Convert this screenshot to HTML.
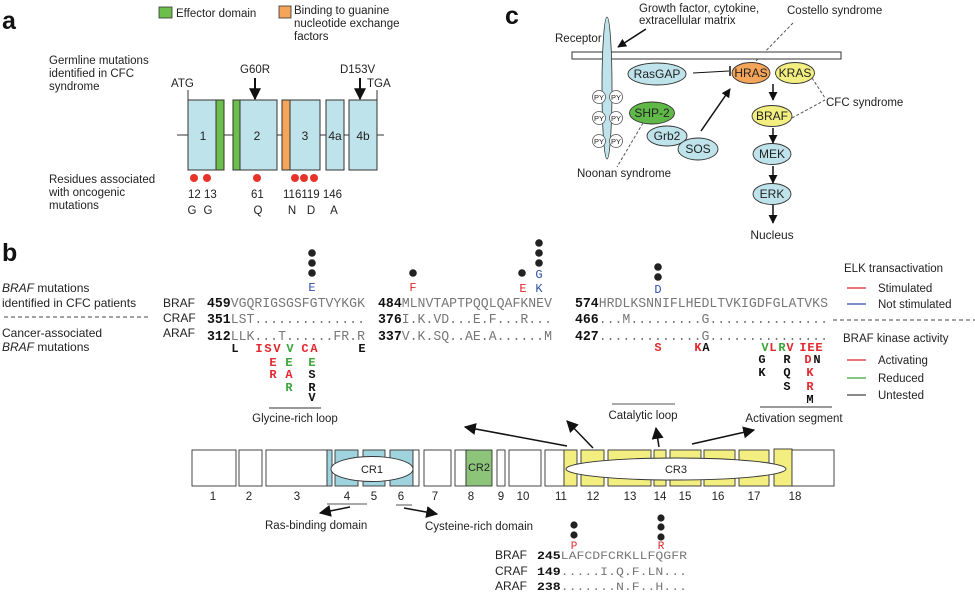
<!DOCTYPE html>
<html><head><meta charset="utf-8"><style>
html,body{margin:0;padding:0;background:#fff;}
svg{display:block;}
text{font-family:"Liberation Sans",sans-serif;fill:#222;}
.m, .m text, .m tspan, text.m{font-family:"Liberation Mono",monospace;}
.g{fill:#777;}
.r{fill:#e0282e;}
.gr{fill:#3aa53a;}
.bl{fill:#2c4fa8;}
.k{fill:#111;}
</style></head><body>
<svg width="975" height="594" viewBox="0 0 975 594" xmlns="http://www.w3.org/2000/svg">
<defs>
<marker id="ah" viewBox="0 0 10 10" refX="9" refY="5" markerWidth="9" markerHeight="9" markerUnits="userSpaceOnUse" orient="auto"><path d="M0,0 L10,5 L0,10 z" fill="#111"/></marker>
<marker id="ah2" viewBox="0 0 10 10" refX="9" refY="5" markerWidth="12" markerHeight="12" markerUnits="userSpaceOnUse" orient="auto"><path d="M0,0 L10,5 L0,10 z" fill="#111"/></marker>
</defs>

<!-- ===== Panel a ===== -->
<text x="2" y="29" font-size="25" font-weight="bold" style="fill:#111">a</text>
<rect x="159" y="7" width="13" height="11" fill="#6cbf4a" stroke="#333" stroke-width="0.8"/>
<text x="176" y="17" font-size="11.5">Effector domain</text>
<rect x="279" y="6" width="12" height="12" fill="#f5a55a" stroke="#333" stroke-width="0.8"/>
<text x="294" y="14" font-size="11.5">Binding to guanine</text>
<text x="294" y="27" font-size="11.5">nucleotide exchange</text>
<text x="294" y="40" font-size="11.5">factors</text>
<text x="49" y="64" font-size="11.5">Germline mutations</text>
<text x="49" y="77" font-size="11.5">identified in CFC</text>
<text x="49" y="90" font-size="11.5">syndrome</text>
<text x="171" y="87" font-size="11.5">ATG</text>
<text x="367" y="87" font-size="11.5">TGA</text>
<text x="240" y="73" font-size="11.5">G60R</text>
<text x="340" y="73" font-size="11.5">D153V</text>
<line x1="188" y1="90" x2="188" y2="101" stroke="#333"/>
<line x1="377" y1="90" x2="377" y2="101" stroke="#333"/>
<line x1="177" y1="135" x2="384" y2="135" stroke="#333"/>
<rect x="188" y="100" width="28" height="70" fill="#bfe3ea" stroke="#333"/>
<rect x="216" y="100" width="8" height="70" fill="#6cbf4a" stroke="#333"/>
<rect x="233" y="100" width="7" height="70" fill="#6cbf4a" stroke="#333"/>
<rect x="240" y="100" width="37" height="70" fill="#bfe3ea" stroke="#333"/>
<rect x="282" y="100" width="8" height="70" fill="#f5a55a" stroke="#333"/>
<rect x="290" y="100" width="30" height="70" fill="#bfe3ea" stroke="#333"/>
<rect x="326" y="100" width="18" height="70" fill="#bfe3ea" stroke="#333"/>
<rect x="349" y="100" width="28" height="70" fill="#bfe3ea" stroke="#333"/>
<g font-size="12" text-anchor="middle">
<text x="203" y="140">1</text><text x="257" y="140">2</text><text x="305" y="140">3</text><text x="335" y="140">4a</text><text x="363" y="140">4b</text>
</g>
<line x1="255" y1="78" x2="255" y2="99" stroke="#111" stroke-width="2" marker-end="url(#ah2)"/>
<line x1="360" y1="78" x2="360" y2="99" stroke="#111" stroke-width="2" marker-end="url(#ah2)"/>
<g fill="#e8332a">
<circle cx="194" cy="178" r="4"/><circle cx="207" cy="178" r="4"/><circle cx="257" cy="178" r="4"/>
<circle cx="295" cy="178" r="4"/><circle cx="304" cy="178" r="4"/><circle cx="314" cy="178" r="4"/>
</g>
<text x="49" y="183" font-size="11.5">Residues associated</text>
<text x="49" y="196" font-size="11.5">with oncogenic</text>
<text x="49" y="209" font-size="11.5">mutations</text>
<text x="188" y="198" font-size="11.5">12 13</text>
<text x="251" y="198" font-size="11.5">61</text>
<text x="283" y="198" font-size="11.5">116119 146</text>
<g font-size="11.5" text-anchor="middle">
<text x="192" y="214">G</text><text x="208" y="214">G</text><text x="258" y="214">Q</text>
<text x="292" y="214">N</text><text x="311" y="214">D</text><text x="334" y="214">A</text>
</g>

<!-- ===== Panel c ===== -->
<text x="505" y="24" font-size="25" font-weight="bold" style="fill:#111">c</text>
<text x="639" y="12" font-size="11.5">Growth factor, cytokine,</text>
<text x="639" y="24" font-size="11.5">extracellular matrix</text>
<text x="787" y="14" font-size="11.5">Costello syndrome</text>
<text x="555" y="42" font-size="11.5">Receptor</text>
<line x1="646" y1="29" x2="618" y2="47" stroke="#111" stroke-width="1.5" marker-end="url(#ah)"/>
<line x1="793" y1="23" x2="755" y2="62" stroke="#555" stroke-dasharray="3,2"/>
<rect x="572" y="52" width="269" height="7" fill="#fff" stroke="#333"/>
<ellipse cx="607" cy="88" rx="5" ry="71" fill="#bfe3ea" stroke="#333" stroke-width="0.8"/>
<g fill="#fff" stroke="#555" stroke-width="0.8">
<circle cx="599" cy="97" r="6.5"/><circle cx="616" cy="97" r="6.5"/>
<circle cx="599" cy="118" r="6.5"/><circle cx="616" cy="118" r="6.5"/>
<circle cx="599" cy="141" r="6.5"/><circle cx="616" cy="141" r="6.5"/>
</g>
<g font-size="7.5" text-anchor="middle">
<text x="599" y="100">PY</text><text x="616" y="100">PY</text>
<text x="599" y="121">PY</text><text x="616" y="121">PY</text>
<text x="599" y="144">PY</text><text x="616" y="144">PY</text>
</g>
<g stroke="#333" stroke-width="0.9">
<ellipse cx="657" cy="74" rx="29" ry="11" fill="#bfe3ea"/>
<ellipse cx="751" cy="73" rx="19" ry="10.5" fill="#f5a55a"/>
<ellipse cx="795" cy="73" rx="19.5" ry="10.5" fill="#f3ee80"/>
<ellipse cx="652" cy="113" rx="22.5" ry="11" fill="#5fb847"/>
<ellipse cx="667" cy="136" rx="20" ry="10" fill="#bfe3ea"/>
<ellipse cx="698" cy="149" rx="20" ry="11" fill="#bfe3ea"/>
<ellipse cx="772" cy="116" rx="20" ry="10.5" fill="#f3ee80"/>
<ellipse cx="772" cy="154" rx="19" ry="10.5" fill="#bfe3ea"/>
<ellipse cx="772" cy="194" rx="19" ry="10.5" fill="#bfe3ea"/>
</g>
<g font-size="12" text-anchor="middle">
<text x="657" y="78">RasGAP</text><text x="751" y="77">HRAS</text><text x="795" y="77">KRAS</text>
<text x="652" y="117">SHP-2</text><text x="667" y="140">Grb2</text><text x="698" y="153">SOS</text>
<text x="772" y="120">BRAF</text><text x="772" y="158">MEK</text><text x="772" y="198">ERK</text>
<text x="772" y="239">Nucleus</text>
</g>
<line x1="693" y1="73" x2="729" y2="71" stroke="#111"/>
<line x1="730" y1="66" x2="730" y2="76" stroke="#111" stroke-width="1.5"/>
<line x1="701" y1="131" x2="730" y2="89" stroke="#111" stroke-width="1.5" marker-end="url(#ah)"/>
<g stroke="#111" stroke-width="1.5">
<line x1="773" y1="84" x2="773" y2="100" marker-end="url(#ah)"/>
<line x1="773" y1="128" x2="773" y2="143" marker-end="url(#ah)"/>
<line x1="773" y1="166" x2="773" y2="183" marker-end="url(#ah)"/>
<line x1="773" y1="205" x2="773" y2="223" marker-end="url(#ah)"/>
</g>
<text x="826" y="106" font-size="11.5">CFC syndrome</text>
<g stroke="#555" stroke-dasharray="3,2">
<line x1="812" y1="78" x2="825" y2="98"/>
<line x1="792" y1="118" x2="825" y2="100"/>
<line x1="643" y1="123" x2="617" y2="167"/>
</g>
<text x="577" y="177" font-size="11.5">Noonan syndrome</text>

<!-- ===== Panel b ===== -->
<text x="2" y="261" font-size="25" font-weight="bold" style="fill:#111">b</text>
<text x="2" y="292" font-size="12"><tspan font-style="italic">BRAF</tspan> mutations</text>
<text x="2" y="307" font-size="12">identified in CFC patients</text>
<line x1="4" y1="317" x2="150" y2="317" stroke="#444" stroke-dasharray="4,3"/>
<text x="2" y="337" font-size="12">Cancer-associated</text>
<text x="2" y="351" font-size="12"><tspan font-style="italic">BRAF</tspan> mutations</text>
<text x="163" y="307" font-size="12">BRAF</text>
<text x="163" y="322" font-size="12">CRAF</text>
<text x="163" y="337" font-size="12">ARAF</text>

<g class="m" font-size="13.8">
<text x="207" y="307" textLength="158" lengthAdjust="spacingAndGlyphs"><tspan class="k" font-weight="bold">459</tspan><tspan class="g">VGQRIGSGSFGTVYKGK</tspan></text>
<text x="207" y="323" textLength="158" lengthAdjust="spacingAndGlyphs"><tspan class="k" font-weight="bold">351</tspan><tspan class="g">LST..............</tspan></text>
<text x="207" y="340" textLength="158" lengthAdjust="spacingAndGlyphs"><tspan class="k" font-weight="bold">312</tspan><tspan class="g">LLK...T......FR.R</tspan></text>
<text x="378" y="307" textLength="174" lengthAdjust="spacingAndGlyphs"><tspan class="k" font-weight="bold">484</tspan><tspan class="g">MLNVTAPTPQQLQAFKNEV</tspan></text>
<text x="378" y="323" textLength="174" lengthAdjust="spacingAndGlyphs"><tspan class="k" font-weight="bold">376</tspan><tspan class="g">I.K.VD...E.F...R...</tspan></text>
<text x="378" y="340" textLength="174" lengthAdjust="spacingAndGlyphs"><tspan class="k" font-weight="bold">337</tspan><tspan class="g">V.K.SQ..AE.A......M</tspan></text>
<text x="575" y="307" textLength="253" lengthAdjust="spacingAndGlyphs"><tspan class="k" font-weight="bold">574</tspan><tspan class="g">HRDLKSNNIFLHEDLTVKIGDFGLATVKS</tspan></text>
<text x="575" y="323" textLength="253" lengthAdjust="spacingAndGlyphs"><tspan class="k" font-weight="bold">466</tspan><tspan class="g">...M.........G...............</tspan></text>
<text x="575" y="340" textLength="253" lengthAdjust="spacingAndGlyphs"><tspan class="k" font-weight="bold">427</tspan><tspan class="g">.............G...............</tspan></text>
</g>

<g fill="#222">
<circle cx="312" cy="253" r="3.8"/><circle cx="312" cy="263" r="3.8"/><circle cx="312" cy="273" r="3.8"/>
<circle cx="413" cy="273" r="3.8"/>
<circle cx="522" cy="273" r="3.8"/>
<circle cx="539" cy="243" r="3.8"/><circle cx="539" cy="253" r="3.8"/><circle cx="539" cy="263" r="3.8"/>
<circle cx="658" cy="267" r="3.8"/><circle cx="658" cy="277" r="3.8"/>
</g>
<g class="m" font-size="12" text-anchor="middle">
<text x="312" y="291" class="bl">E</text>
<text x="413" y="291" class="r">F</text>
<text x="523" y="292" class="r">E</text>
<text x="539" y="278" class="bl">G</text>
<text x="539" y="292" class="bl">K</text>
<text x="658" y="293" class="bl">D</text>
</g>

<g class="m" font-size="12" font-weight="bold" text-anchor="middle">
<text x="235" y="352" class="k">L</text>
<text x="259" y="352" class="r">I</text><text x="268" y="352" class="r">S</text><text x="277" y="352" class="r">V</text>
<text x="290" y="352" class="gr">V</text>
<text x="305" y="352" class="r">C</text><text x="314" y="352" class="r">A</text>
<text x="362" y="352" class="k">E</text>
<text x="273" y="366" class="r">E</text><text x="289" y="366" class="gr">E</text><text x="312" y="366" class="gr">E</text>
<text x="273" y="378" class="r">R</text><text x="289" y="378" class="r">A</text><text x="312" y="378" class="k">S</text>
<text x="289" y="391" class="gr">R</text><text x="312" y="391" class="k">R</text>
<text x="312" y="401" class="k">V</text>

<text x="658" y="351" class="r">S</text>
<text x="698" y="351" class="r">K</text><text x="706" y="351" class="k">A</text>
<text x="765" y="351" class="gr">V</text><text x="773" y="351" class="r">L</text><text x="782" y="351" class="gr">R</text><text x="790" y="351" class="r">V</text>
<text x="803" y="351" class="r">I</text><text x="811" y="351" class="r">E</text><text x="819" y="351" class="r">E</text>
<text x="762" y="363" class="k">G</text><text x="787" y="363" class="k">R</text><text x="808" y="363" class="r">D</text><text x="817" y="363" class="k">N</text>
<text x="762" y="376" class="k">K</text><text x="787" y="376" class="k">Q</text><text x="810" y="376" class="r">K</text>
<text x="787" y="390" class="k">S</text><text x="810" y="390" class="r">R</text>
<text x="810" y="403" class="k">M</text>
</g>

<line x1="269" y1="408" x2="321" y2="408" stroke="#333"/>
<text x="295" y="422" font-size="11.5" text-anchor="middle">Glycine-rich loop</text>
<line x1="612" y1="404" x2="675" y2="404" stroke="#777" stroke-width="1.2"/>
<text x="643" y="419" font-size="11.5" text-anchor="middle">Catalytic loop</text>
<line x1="760" y1="407" x2="832" y2="407" stroke="#333"/>
<text x="794" y="422" font-size="11.5" text-anchor="middle">Activation segment</text>

<text x="844" y="272" font-size="11.5">ELK transactivation</text>
<line x1="847" y1="288" x2="866" y2="288" stroke="#e0282e" stroke-width="1.2"/>
<text x="878" y="292" font-size="11.5">Stimulated</text>
<line x1="847" y1="304" x2="866" y2="304" stroke="#2c4fa8" stroke-width="1.2"/>
<text x="878" y="308" font-size="11.5">Not stimulated</text>
<line x1="833" y1="320" x2="975" y2="320" stroke="#444" stroke-dasharray="4,3"/>
<text x="843" y="342" font-size="11.5">BRAF kinase activity</text>
<line x1="847" y1="360" x2="866" y2="360" stroke="#e0282e" stroke-width="1.2"/>
<text x="878" y="364" font-size="11.5">Activating</text>
<line x1="847" y1="378" x2="866" y2="378" stroke="#3aa53a" stroke-width="1.2"/>
<text x="878" y="382" font-size="11.5">Reduced</text>
<line x1="847" y1="395" x2="866" y2="395" stroke="#444" stroke-width="1.2"/>
<text x="878" y="399" font-size="11.5">Untested</text>

<g stroke="#333" stroke-width="0.9">
<rect x="192" y="450" width="44" height="36" fill="#fff"/>
<rect x="239" y="450" width="23" height="36" fill="#fff"/>
<rect x="266" y="450" width="61" height="36" fill="#fff"/>
<rect x="327" y="450" width="5" height="36" fill="#9fd4de"/>
<rect x="335" y="450" width="23" height="36" fill="#9fd4de"/>
<rect x="363" y="450" width="22" height="36" fill="#9fd4de"/>
<rect x="390" y="450" width="23" height="36" fill="#9fd4de"/>
<rect x="413" y="450" width="6" height="36" fill="#fff"/>
<rect x="424" y="450" width="27" height="36" fill="#fff"/>
<rect x="455" y="450" width="11" height="36" fill="#fff"/>
<rect x="466" y="450" width="26" height="36" fill="#8cc47a"/>
<rect x="497" y="450" width="8" height="36" fill="#fff"/>
<rect x="509" y="450" width="32" height="36" fill="#fff"/>
<rect x="545" y="450" width="19" height="36" fill="#fff"/>
<rect x="564" y="450" width="13" height="36" fill="#f3ee80"/>
<rect x="581" y="450" width="23" height="36" fill="#f3ee80"/>
<rect x="608" y="450" width="43" height="36" fill="#f3ee80"/>
<rect x="654" y="450" width="12" height="36" fill="#f3ee80"/>
<rect x="670" y="450" width="31" height="36" fill="#f3ee80"/>
<rect x="704" y="450" width="31" height="36" fill="#f3ee80"/>
<rect x="739" y="450" width="30" height="36" fill="#f3ee80"/>
<rect x="774" y="449" width="18" height="37" fill="#f3ee80"/>
<rect x="792" y="450" width="42" height="36" fill="#fff"/>
<ellipse cx="372" cy="469" rx="41" ry="12.5" fill="#fff"/>
<ellipse cx="676" cy="469" rx="110" ry="11" fill="#fff"/>
</g>
<g font-size="11" text-anchor="middle">
<text x="372" y="473">CR1</text><text x="479" y="471">CR2</text><text x="676" y="473">CR3</text>
</g>
<g font-size="11.5" text-anchor="middle">
<text x="213" y="500">1</text><text x="249" y="500">2</text><text x="297" y="500">3</text><text x="347" y="500">4</text>
<text x="374" y="500">5</text><text x="401" y="500">6</text><text x="435" y="500">7</text><text x="471" y="500">8</text>
<text x="501" y="500">9</text><text x="523" y="500">10</text><text x="561" y="500">11</text><text x="593" y="500">12</text>
<text x="630" y="500">13</text><text x="660" y="500">14</text><text x="685" y="500">15</text><text x="718" y="500">16</text>
<text x="754" y="500">17</text><text x="795" y="500">18</text>
</g>
<g stroke="#111" stroke-width="1.5">
<line x1="567" y1="446" x2="465" y2="427" marker-end="url(#ah2)"/>
<line x1="593" y1="448" x2="567" y2="421" marker-end="url(#ah2)"/>
<line x1="659" y1="447" x2="656" y2="428" marker-end="url(#ah2)"/>
<line x1="692" y1="444" x2="754" y2="430" marker-end="url(#ah2)"/>
<line x1="350" y1="507" x2="320" y2="513" marker-end="url(#ah2)"/>
<line x1="404" y1="508" x2="437" y2="514" marker-end="url(#ah2)"/>
</g>
<line x1="327" y1="504" x2="367" y2="504" stroke="#555"/>
<line x1="396" y1="505" x2="412" y2="505" stroke="#555"/>
<text x="265" y="529" font-size="11.5">Ras-binding domain</text>
<text x="425" y="530" font-size="11.5">Cysteine-rich domain</text>

<g fill="#222">
<circle cx="574" cy="525" r="3.6"/><circle cx="574" cy="535" r="3.6"/>
<circle cx="661" cy="518" r="3.6"/><circle cx="661" cy="527" r="3.6"/><circle cx="661" cy="537" r="3.6"/>
</g>
<g class="m" font-size="11" text-anchor="middle">
<text x="574" y="549" class="r">P</text><text x="661" y="549" class="r">R</text>
</g>
<text x="495" y="559" font-size="12">BRAF</text>
<text x="495" y="575" font-size="12">CRAF</text>
<text x="495" y="590" font-size="12">ARAF</text>
<g class="m" font-size="11.2">
<text x="537" y="559" textLength="150" lengthAdjust="spacingAndGlyphs"><tspan class="k" font-weight="bold">245</tspan><tspan class="g">LAFCDFCRKLLFQGFR</tspan></text>
<text x="537" y="575" textLength="150" lengthAdjust="spacingAndGlyphs"><tspan class="k" font-weight="bold">149</tspan><tspan class="g">.....I.Q.F.LN...</tspan></text>
<text x="537" y="590" textLength="150" lengthAdjust="spacingAndGlyphs"><tspan class="k" font-weight="bold">238</tspan><tspan class="g">.......N.F..H...</tspan></text>
</g>
</svg>
</body></html>
